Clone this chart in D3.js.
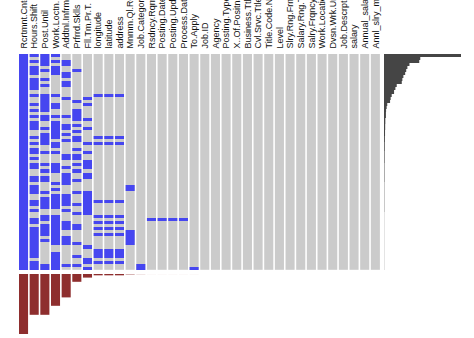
<!DOCTYPE html>
<html>
<head>
<meta charset="utf-8">
<script src="https://cdn.jsdelivr.net/npm/d3@7"></script>
<style>
  html, body { margin: 0; padding: 0; background: #fff; }
  svg { display: block; }
  text { font-family: "Liberation Sans", Arial, sans-serif; }
</style>
</head>
<body>
<svg id="chart" width="474" height="338"></svg>
<script>
// ---- data ----
const variables = [
  "Rcrtmnt.Cntc", "Hours.Shift", "Post.Until", "Work.Loctn.1", "Addtnl.Infrmt",
  "Prfrrd.Sklls", "Fll.Tm.Pr.T.", "longitude", "latitude", "address",
  "Mnmm.Ql.Rqrm", "Job.Category", "Rsdncy.Rqrmn", "Posting.Date", "Posting.Updtd",
  "Process.Date", "To.Apply", "Job.ID", "Agency", "Posting.Type",
  "X..Of.Positns", "Business.Ttle", "Cvl.Srvc.Ttle", "Title.Code.No", "Level",
  "Slry.Rng.Frm", "Salary.Rng.To", "Salry.Frqncy", "Work.Location", "Dvsn.Wrk.Unt",
  "Job.Descrptn", "salary", "Annual_salary", "Annl_slry_mln"
];

// share of missing values per variable (bottom bars)
const varMissing = [
  1.00, 0.68, 0.68, 0.53, 0.39, 0.13, 0.06, 0.022, 0.022, 0.022,
  0.006, 0.002, 0.0005, 0.0005, 0.0005, 0.0005, 0.0005, 0, 0, 0,
  0, 0, 0, 0, 0, 0, 0, 0, 0, 0, 0, 0, 0, 0
];

// missingness patterns: indices of missing variables, one row per pattern
const patterns = [
  [0,1,2,3], [0,2], [0,1,2,3,4], [0,2,4], [0,1,3], [0,1,2,3,5], [0,1,3,4], [0,4],
  [0,1,2], [0,1,4], [0,1,2,4], [0,1], [0], [0,1,2,3,7,8,9], [0,2,4,6], [0,2,5],
  [0,1,2,3,6], [0,2,3], [0,1,2,5], [0,5], [0,1,2,3,4,5], [0,2,5,6], [0,1,3], [0,1,3,4,5],
  [0,1,2,3,4,6], [0,3,5], [0,2,3,4], [0,1,2,3,5,7,8,9], [0,2,4,5], [0,1,2,3,6,7,8,9], [0,3], [0,1,5],
  [0,1,2,3,6], [0,4,5], [0,1,4,5], [0,6], [0,1,2,3,5,6], [0,1,3,4,6], [0,2,3,5], [0,4,6],
  [0,1,2,4,6], [0,1,2,4,5], [0,3,4], [0,1,10], [0,1,3,10], [0,1,2,5,6], [0,3,4,6], [0,2,3,4,6],
  [0,1,2,3,4,6,7,8,9], [0,1,2,3,4,5,6], [0,2,3,6], [0,1,4,6], [0,5,6], [0,2,3,7,8,9],
  [0,1,2,3,12,13,14,15], [0,1,3,4,7,8,9], [0,2,3,4,5], [0,1,2,3,4,5,7,8,9], [0,1,2,3,10],
  [0,1,2,3,7,8,9,10], [0,1,3,4,10], [0,1,2,3,4,10], [0,1,3,4,5,10], [0,1,6], [0,1,7,8,9],
  [0,1,3,7,8,9], [0,1,3,5,7,8,9], [0,3,6], [0,1,3,6,7,8,9], [0,1,2,3,4,5,11], [0,1,2,3,6,11,16]
];

// frequency of each pattern (right bars)
const patternFreq = [
  520, 245, 238, 172, 158, 150, 143, 131, 124, 120, 86, 77, 68, 52, 45, 41,
  22, 18, 14, 13, 13, 9, 9, 8, 8, 7, 7, 6, 6, 5, 5, 5,
  4, 4, 4, 4, 3, 3, 3, 3, 3, 3, 2, 2, 2, 2, 2, 2,
  2, 2, 2, 2, 1, 1, 1, 1, 1, 1, 1, 1, 1, 1, 1, 1,
  1, 1, 1, 1, 1, 1, 1
];

// ---- drawing ----
const svg = d3.select("#chart");
svg.append("rect").attr("width", 474).attr("height", 338).attr("fill", "#fff");

const blue = "#4646f0", grey = "#cbcbcb", dark = "#454545", red = "#8e2e2e";

const x = d3.scaleBand().domain(variables).range([19, 379.9]).paddingInner(0.15).paddingOuter(0);
const y = d3.scaleBand().domain(d3.range(patterns.length)).range([54, 269.8]).padding(0);
const xr = d3.scaleLinear().domain([0, d3.max(patternFreq)]).range([384, 461]);
const yb = d3.scaleLinear().domain([0, 1]).range([274, 334]);

// grey columns
svg.append("g").selectAll("rect").data(variables).join("rect")
  .attr("x", d => x(d)).attr("width", x.bandwidth())
  .attr("y", y.range()[0]).attr("height", y.range()[1] - y.range()[0])
  .attr("fill", grey);

// blue missing cells (row edges snapped so adjacent rows join without seams)
const cells = [];
patterns.forEach((p, i) => p.forEach(j => cells.push({ row: i, v: variables[j] })));
const rowTop = i => Math.round(y(i));
const rowBot = i => Math.round(y(i) + y.bandwidth());
svg.append("g").selectAll("rect").data(cells).join("rect")
  .attr("x", d => x(d.v)).attr("width", x.bandwidth())
  .attr("y", d => rowTop(d.row)).attr("height", d => rowBot(d.row) - rowTop(d.row))
  .attr("fill", blue);

// right bars: pattern frequencies
svg.append("g").selectAll("rect").data(patternFreq).join("rect")
  .attr("x", xr(0)).attr("width", d => xr(d) - xr(0))
  .attr("y", (d, i) => rowTop(i)).attr("height", (d, i) => rowBot(i) - rowTop(i))
  .attr("fill", dark);

// bottom bars: missing share per variable
svg.append("g").selectAll("rect").data(variables).join("rect")
  .attr("x", d => x(d)).attr("width", x.bandwidth())
  .attr("y", yb(0)).attr("height", (d, i) => yb(varMissing[i]) - yb(0))
  .attr("fill", red);

// rotated labels
svg.append("g").selectAll("text").data(variables).join("text")
  .attr("transform", d => `translate(${x(d) + x.bandwidth() / 2},48.5) rotate(-90)`)
  .attr("dy", "0.35em")
  .attr("font-size", 9)
  .attr("fill", "#111")
  .text(d => d);
</script>
</body>
</html>
